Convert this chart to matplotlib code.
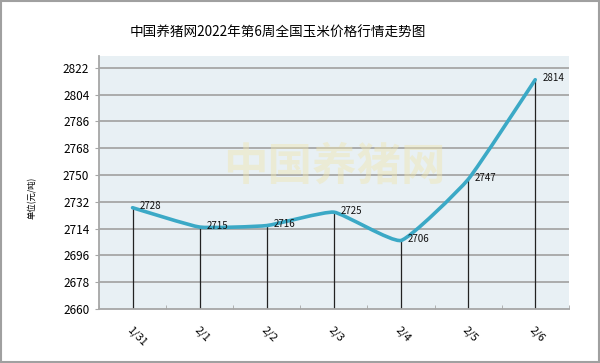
import matplotlib.pyplot as plt
import numpy as np
from matplotlib.path import Path
import matplotlib.patches as mpatches

plt.rcParams['font.family'] = ['Noto Sans CJK SC', 'DejaVu Sans']

# data
dates = ['1/31', '2/1', '2/2', '2/3', '2/4', '2/5', '2/6']
prices = [2728, 2715, 2716, 2725, 2706, 2747, 2814]
yticks = [2660, 2678, 2696, 2714, 2732, 2750, 2768, 2786, 2804, 2822]

line_color = '#3BA9C6'
grid_color = '#A6A6A6'

fig = plt.figure(figsize=(6, 3.63), dpi=100)
fig.patches.append(mpatches.Rectangle((0.002, 0.003), 0.996, 0.994, transform=fig.transFigure,
                                      facecolor='none', edgecolor='#A0A0A0', linewidth=1.5))
ax = fig.add_axes([0.165, 0.149, 0.783, 0.697])
ax.set_facecolor('#E8F0F4')

x = np.arange(len(dates))
ax.set_xlim(-0.5, len(dates) - 0.5)
ax.set_ylim(2660, 2830)

# horizontal grid
for yt in yticks[1:]:
    ax.axhline(yt, color=grid_color, linewidth=1.3, zorder=1)

# drop lines
ax.vlines(x, 2660, prices, color='#222222', linewidth=0.9, zorder=2)

# lightly smoothed line through the points
pts = np.column_stack([x, prices]).astype(float)
verts = [tuple(pts[0])]
codes = [Path.MOVETO]
t = 0.07
for i in range(len(pts) - 1):
    p0 = pts[max(i - 1, 0)]
    p1 = pts[i]
    p2 = pts[i + 1]
    p3 = pts[min(i + 2, len(pts) - 1)]
    c1 = p1 + (p2 - p0) * t
    c2 = p2 - (p3 - p1) * t
    verts += [tuple(c1), tuple(c2), tuple(p2)]
    codes += [Path.CURVE4] * 3
ax.add_patch(mpatches.PathPatch(Path(verts, codes), facecolor='none', edgecolor=line_color,
                                linewidth=2.6, zorder=3, capstyle='round'))

for xi, p in zip(x, prices):
    ax.annotate(str(p), (xi, p), xytext=(5, 1), textcoords='offset points',
                fontsize=7, va='center', ha='left', color='#111111', zorder=4)

# watermark
ax.text(0.5, 0.56, '中国养猪网', transform=ax.transAxes, fontsize=32, fontweight='bold',
        color='#EFE6B0', alpha=0.45, ha='center', va='center', zorder=1.5)

ax.set_yticks(yticks)
ax.set_yticklabels([str(v) for v in yticks], fontsize=8.5)
ax.set_xticks(x)
ax.set_xticklabels(dates, rotation=-45, fontsize=8, ha='left', va='top', rotation_mode='anchor')
ax.set_xticks(np.arange(-0.5, len(dates)), minor=True)
ax.tick_params(axis='x', which='major', length=0, pad=11)
ax.tick_params(axis='x', which='minor', direction='in', length=3, color=grid_color)
ax.tick_params(axis='y', length=3, color=grid_color, pad=4)

for s in ['top', 'right']:
    ax.spines[s].set_visible(False)
ax.spines['left'].set_color(grid_color)
ax.spines['bottom'].set_color(grid_color)
ax.spines['left'].set_linewidth(1.3)
ax.spines['bottom'].set_linewidth(1.3)

fig.text(0.053, 0.455, '单位(元/吨)', rotation=90, fontsize=6, ha='center', va='center')
fig.suptitle('中国养猪网2022年第6周全国玉米价格行情走势图', x=0.463, y=0.93, fontsize=9.8)

fig.savefig('out.png', dpi=100)
